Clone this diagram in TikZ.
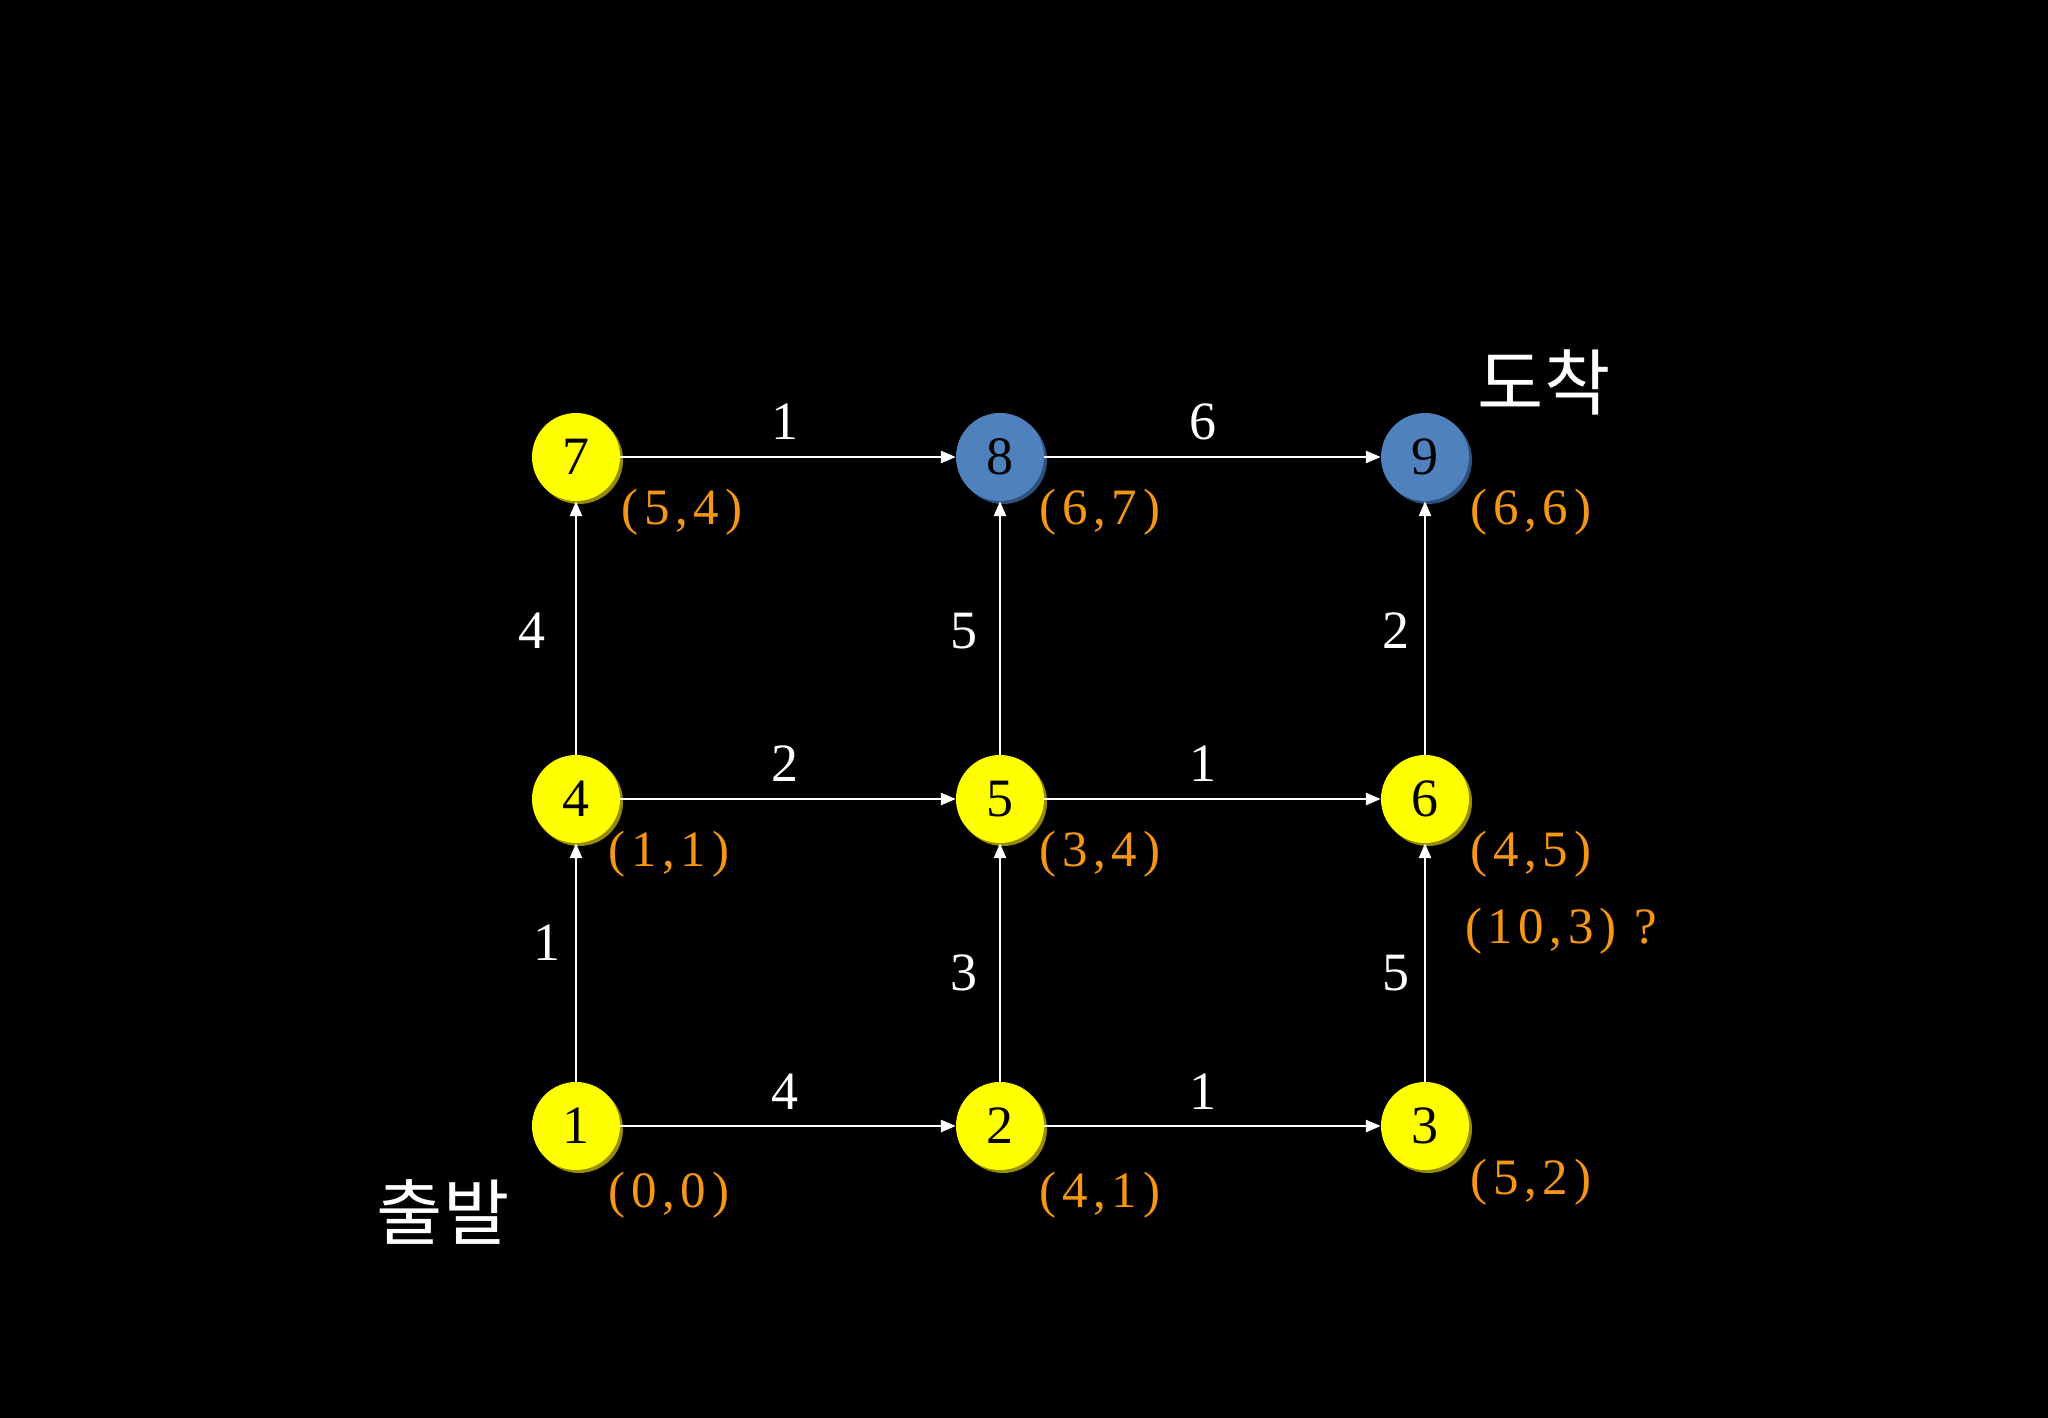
\documentclass[tikz,border=0pt]{standalone}
\usepackage{fontspec}
\setmainfont{Liberation Serif}
\newfontfamily\kor{Noto Sans CJK KR}
\newfontfamily\orf{Liberation Serif}[LetterSpace=11]
\usetikzlibrary{arrows.meta}
\definecolor{nyel}{RGB}{255,255,0}
\definecolor{nyelsh}{RGB}{150,140,0}
\definecolor{nblue}{RGB}{79,129,189}
\definecolor{nbluesh}{RGB}{45,80,125}
\definecolor{norange}{RGB}{245,150,20}
\tikzset{
  vert/.style={circle, minimum size=88pt, inner sep=0pt, font=\fontsize{54}{56}\selectfont, text=black},
  yel/.style={vert, fill=nyel, preaction={fill=nyelsh, transform canvas={shift={(3pt,-3pt)}}}},
  blu/.style={vert, fill=nblue, preaction={fill=nbluesh, transform canvas={shift={(3pt,-3pt)}}}},
  edge/.style={draw=white, line width=2.5pt, -{Triangle[length=15pt,width=12pt]}},
  wlab/.style={text=white, font=\fontsize{54}{56}\selectfont, inner sep=0pt},
  olab/.style={text=norange, font=\fontsize{51}{54}\orf, inner sep=0pt},
  klab/.style={text=white, font=\fontsize{72}{76}\kor, inner sep=0pt}
}
\begin{document}
\begin{tikzpicture}[x=1pt,y=-1pt]
\fill[black] (0,0) rectangle (2048,1418);
\useasboundingbox (0,0) rectangle (2048,1418);
% nodes
\node[yel] (n7) at (576,457) {7};
\node[blu] (n8) at (1000,457) {8};
\node[blu] (n9) at (1425,457) {9};
\node[yel] (n4) at (576,799) {4};
\node[yel] (n5) at (1000,799) {5};
\node[yel] (n6) at (1425,799) {6};
\node[yel] (n1) at (576,1126) {1};
\node[yel] (n2) at (1000,1126) {2};
\node[yel] (n3) at (1425,1126) {3};
% edges
\draw[edge] (n7) -- (n8);
\draw[edge] (n8) -- (n9);
\draw[edge] (n4) -- (n5);
\draw[edge] (n5) -- (n6);
\draw[edge] (n1) -- (n2);
\draw[edge] (n2) -- (n3);
\draw[edge] (n4) -- (n7);
\draw[edge] (n1) -- (n4);
\draw[edge] (n5) -- (n8);
\draw[edge] (n2) -- (n5);
\draw[edge] (n6) -- (n9);
\draw[edge] (n3) -- (n6);
% edge weights
\node[wlab] (w78) at (785,422) {1};
\node[wlab] (w89) at (1203,422) {6};
\node[wlab] (w45) at (785,764) {2};
\node[wlab] (w56) at (1203,764) {1};
\node[wlab] (w12) at (785,1092) {4};
\node[wlab] (w23) at (1203,1092) {1};
\node[wlab] (w47) at (532,631) {4};
\node[wlab] (w14) at (547,943) {1};
\node[wlab] (w58) at (964,631) {5};
\node[wlab] (w25) at (964,973) {3};
\node[wlab] (w69) at (1396,631) {2};
\node[wlab] (w36) at (1396,973) {5};
% orange labels
\node[olab] (o7) at (682,512) {(5,4)};
\node[olab] (o8) at (1100,512) {(6,7)};
\node[olab] (o9) at (1531,512) {(6,6)};
\node[olab] (o4) at (669,854) {(1,1)};
\node[olab] (o5) at (1100,854) {(3,4)};
\node[olab] (o6) at (1531,854) {(4,5)};
\node[olab, anchor=west] (o6b) at (1465,931) {(10,3) ?};
\node[olab] (o1) at (669,1195) {(0,0)};
\node[olab] (o2) at (1100,1195) {(4,1)};
\node[olab] (o3) at (1531,1182) {(5,2)};
% start/goal
\node[klab] (goal) at (1544,382) {도착};
\node[klab] (start) at (443,1212) {출발};
\end{tikzpicture}
\end{document}
